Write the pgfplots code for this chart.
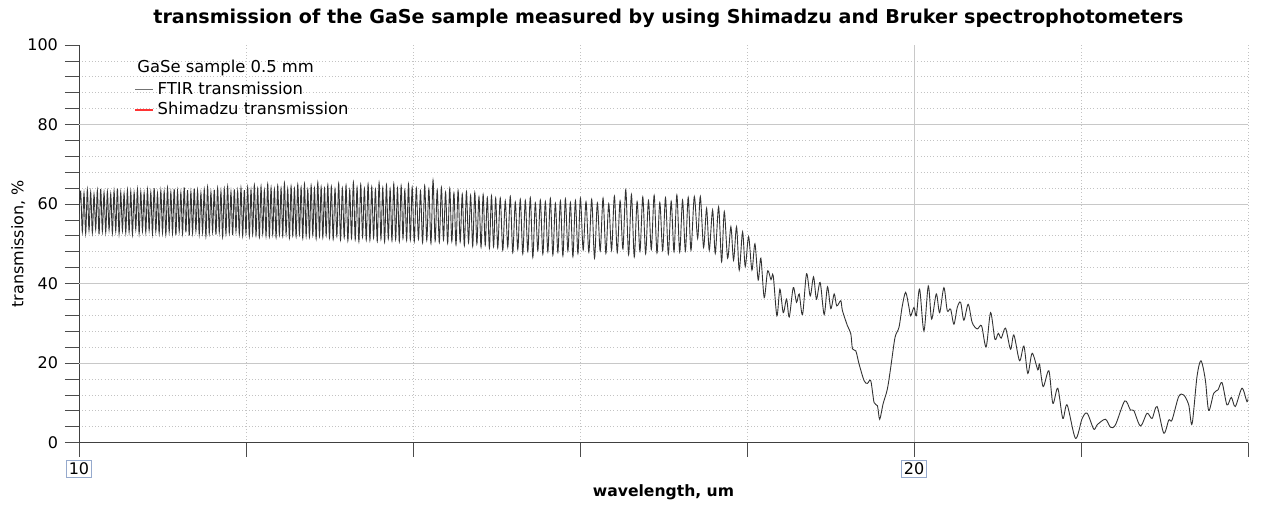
\documentclass[border=0pt]{standalone}
\usepackage{fontspec}
\setmainfont{DejaVu Sans}
\usepackage{pgfplots}
\pgfplotsset{compat=1.18}
\definecolor{gridmaj}{RGB}{200,200,200}
\definecolor{gridmin}{RGB}{195,195,195}
\definecolor{boxcol}{RGB}{150,170,205}
\begin{document}
\begin{tikzpicture}
\useasboundingbox (0,0) rectangle (640pt,252pt);
\begin{axis}[
  at={(39.5pt,30.65pt)}, anchor=south west,
  scale only axis, width=584.5pt, height=198.85pt,
  xmin=10, xmax=24, ymin=0, ymax=100,
  axis lines=left, axis line style={-, draw=black!75, line width=0.5pt},
  tick align=outside, major tick length=7pt, minor tick length=7pt,
  tick style={draw=black!70, line width=0.4pt},
  xtick={10,20}, minor xtick={12,14,16,18,22,24},
  ytick={0,20,40,60,80,100}, minor y tick num=4,
  xmajorgrids=true, xminorgrids=true, yminorgrids=true,
  extra y ticks={20,40,60,80}, extra y tick labels={},
  extra y tick style={ymajorgrids=true, major tick length=0pt},
  major grid style={draw=gridmaj, line width=0.5pt},
  minor grid style={draw=gridmin, dash pattern=on 0.4pt off 1.2pt, line width=0.4pt},
  /pgf/number format/assume math mode=true,
  ticklabel style={font=\fontsize{8}{9.6}\selectfont},
  xticklabel style={draw=boxcol, fill=white, inner sep=1.2pt, yshift=-1.5pt},
  title={\bfseries transmission of the GaSe sample measured by using Shimadzu and Bruker spectrophotometers},
  title style={font=\fontsize{9.55}{11}\selectfont, at={(axis description cs:0.5,1)}, anchor=base, yshift=4.5pt, xshift=2.5pt},
  xlabel={\bfseries wavelength, um},
  xlabel style={font=\fontsize{7.8}{9}\selectfont, at={(axis description cs:0.5,-0.124)}, anchor=center},
  ylabel={transmission, \%},
  ylabel style={font=\fontsize{8}{9.6}\selectfont, at={(axis description cs:-0.052,0.5)}, anchor=center, rotate=0},
  legend style={at={(axis description cs:0.047,0.919)}, anchor=north west, draw=none, fill=none,
    font=\fontsize{8.2}{10}\selectfont, inner sep=0pt, row sep=-1.5pt,
    /tikz/every even column/.append style={column sep=0pt}},
  legend cell align=left,
]
\addplot[black!80, line width=0.45pt, smooth, tension=0.5, forget plot] coordinates {
(10.00,57.5)(10.02,63.2)(10.04,53.0)(10.06,62.8)(10.08,52.6)(10.10,63.6)(10.12,53.4)(10.14,63.0)(10.16,52.8)(10.18,62.5)
(10.20,53.6)(10.22,63.4)(10.24,52.4)(10.26,63.8)(10.28,53.1)(10.30,62.9)(10.32,52.9)(10.34,63.1)(10.36,53.5)(10.38,62.6)
(10.40,52.7)(10.42,63.3)(10.44,53.2)(10.46,63.9)(10.48,52.5)(10.50,63.0)(10.52,53.3)(10.54,62.7)(10.56,52.8)(10.58,63.5)
(10.60,53.0)(10.62,63.2)(10.64,52.4)(10.66,62.9)(10.68,53.6)(10.70,63.7)(10.72,52.6)(10.74,63.1)(10.76,53.2)(10.78,62.8)
(10.80,52.9)(10.82,63.6)(10.84,53.4)(10.86,63.0)(10.88,52.5)(10.90,64.0)(10.92,53.1)(10.94,62.7)(10.96,52.7)(10.98,63.4)
(11.00,52.8)(11.02,63.2)(11.04,52.3)(11.06,64.1)(11.08,53.0)(11.10,63.0)(11.12,52.6)(11.14,63.8)(11.16,52.2)(11.18,63.3)
(11.20,53.1)(11.22,62.9)(11.24,52.5)(11.26,64.2)(11.28,52.9)(11.30,63.5)(11.32,52.1)(11.34,63.1)(11.36,52.7)(11.38,63.9)
(11.40,53.2)(11.42,63.4)(11.44,52.4)(11.46,62.8)(11.48,52.8)(11.50,63.7)(11.52,51.9)(11.54,64.3)(11.56,52.6)(11.58,63.0)
(11.60,53.0)(11.62,63.6)(11.64,52.3)(11.66,64.0)(11.68,52.9)(11.70,63.2)(11.72,51.8)(11.74,63.8)(11.76,52.5)(11.78,64.4)
(11.80,52.7)(11.82,63.1)(11.84,52.2)(11.86,63.7)(11.88,53.1)(11.90,63.3)(11.92,52.4)(11.94,64.1)(11.96,52.0)(11.98,63.5)
(12.00,52.6)(12.02,64.2)(12.04,51.9)(12.06,63.6)(12.08,52.4)(12.10,64.8)(12.12,52.1)(12.14,63.9)(12.16,51.7)(12.18,64.4)
(12.20,52.5)(12.22,63.5)(12.24,52.0)(12.26,65.0)(12.28,51.8)(12.30,64.1)(12.32,52.3)(12.34,63.7)(12.36,51.6)(12.38,64.6)
(12.40,52.2)(12.42,64.0)(12.44,51.9)(12.46,65.3)(12.48,52.4)(12.50,63.8)(12.52,51.5)(12.54,64.5)(12.56,52.1)(12.58,63.9)
(12.60,51.8)(12.62,64.9)(12.64,52.3)(12.66,64.2)(12.68,51.4)(12.70,65.1)(12.72,52.0)(12.74,63.7)(12.76,51.7)(12.78,64.7)
(12.80,52.2)(12.82,64.0)(12.84,51.3)(12.86,65.4)(12.88,51.9)(12.90,64.3)(12.92,51.6)(12.94,63.9)(12.96,52.1)(12.98,64.8)
(13.000,51.5)(13.022,64.4)(13.044,51.2)(13.066,63.8)(13.088,51.9)(13.110,65.2)(13.132,51.0)(13.154,64.0)(13.176,51.6)(13.198,64.7)
(13.220,50.8)(13.242,63.6)(13.264,51.4)(13.286,65.5)(13.308,51.1)(13.330,64.2)(13.352,50.6)(13.374,64.9)(13.396,51.7)(13.418,63.9)
(13.440,51.0)(13.462,65.0)(13.484,50.9)(13.506,64.3)(13.528,51.5)(13.550,63.7)(13.572,50.7)(13.594,65.4)(13.616,51.2)(13.638,64.1)
(13.660,50.5)(13.682,64.8)(13.704,51.3)(13.726,63.8)(13.748,50.8)(13.770,65.1)(13.792,51.1)(13.814,64.0)(13.836,50.6)(13.858,64.6)
(13.880,51.4)(13.902,63.5)(13.924,50.9)(13.946,65.0)(13.968,51.0)(13.990,64.2)
(14.015,50.6)(14.040,64.0)(14.065,51.2)(14.090,63.3)(14.115,50.3)(14.140,64.6)(14.165,50.9)(14.190,63.8)(14.215,50.1)(14.240,66.0)
(14.265,50.7)(14.290,63.5)(14.315,50.4)(14.340,64.2)(14.365,51.0)(14.390,63.0)(14.415,50.2)(14.440,63.9)(14.465,50.6)(14.490,62.8)
(14.515,49.8)(14.540,63.4)(14.565,50.5)(14.590,62.5)(14.615,49.6)(14.640,63.1)(14.665,50.3)(14.690,62.2)(14.715,49.4)(14.740,62.9)
(14.765,50.0)(14.790,61.8)(14.815,49.2)(14.840,62.4)(14.865,49.7)(14.890,61.6)(14.915,48.9)(14.940,62.1)(14.965,49.3)(14.990,61.5)
(15.015,49.0)(15.045,61.5)(15.075,48.4)(15.105,60.8)(15.135,49.2)(15.165,61.9)(15.195,47.8)(15.225,60.5)(15.255,48.6)(15.285,61.2)
(15.315,47.5)(15.345,60.9)(15.375,48.1)(15.405,61.6)(15.435,46.6)(15.465,60.3)(15.495,48.3)(15.525,61.0)(15.555,47.4)(15.585,60.6)
(15.615,48.0)(15.645,61.4)(15.675,47.2)(15.705,60.2)(15.735,47.9)(15.765,60.8)(15.795,47.0)(15.825,61.3)(15.855,48.2)(15.885,60.4)
(15.915,46.8)(15.945,60.9)(15.975,47.6)(16.005,61.5)
(16.038,48.5)(16.072,60.6)(16.106,47.9)(16.140,61.2)(16.174,46.4)(16.208,60.3)(16.242,48.2)(16.276,61.5)(16.310,47.6)(16.344,60.1)
(16.378,48.4)(16.412,62.0)(16.446,47.8)(16.480,60.8)(16.514,48.7)(16.548,63.6)(16.582,47.3)(16.616,62.4)(16.650,46.7)(16.684,60.6)
(16.718,48.1)(16.752,61.8)(16.786,47.5)(16.820,60.9)(16.854,48.6)(16.888,62.2)(16.922,47.7)(16.956,60.4)(16.990,48.3)(17.024,61.6)
(17.058,47.4)(17.092,60.7)(17.126,48.0)(17.160,62.3)(17.194,47.9)(17.228,61.0)(17.262,48.2)(17.296,61.7)
(17.329,48.4)(17.369,61.9)(17.409,51.4)(17.441,61.9)(17.480,49.1)(17.516,58.9)(17.548,48.4)(17.588,58.5)(17.620,47.6)(17.660,59.3)
(17.696,45.5)(17.728,58.1)(17.768,46.4)(17.807,54.3)(17.839,45.9)(17.875,54.3)(17.907,43.4)(17.947,53.0)(17.979,44.3)(18.019,51.8)
(18.059,43.4)(18.095,50.0)(18.134,40.9)(18.166,46.4)(18.206,36.5)(18.247,43.2)(18.287,41.0)(18.314,42.0)(18.358,31.9)(18.394,38.6)
(18.434,32.7)(18.474,36.1)(18.506,31.6)(18.554,39.0)(18.593,35.3)(18.625,37.4)(18.665,32.2)(18.713,42.5)(18.757,36.9)(18.797,41.7)
(18.832,36.1)(18.876,40.3)(18.924,32.2)(18.964,39.2)(19.004,33.7)(19.044,37.4)(19.075,34.4)(19.123,35.7)(19.143,33.2)(19.203,29.4)
(19.243,27.4)(19.263,23.6)(19.303,23.1)(19.342,19.8)(19.402,15.6)(19.442,14.9)(19.482,15.6)(19.522,10.1)(19.562,9.3)(19.589,5.9)
(19.629,9.7)(19.681,13.5)(19.721,18.9)(19.773,26.5)(19.820,29.0)(19.860,34.4)(19.900,37.8)(19.940,34.0)(19.960,31.9)(20.000,34.0)
(20.028,31.9)(20.067,38.6)(20.119,28.1)(20.171,39.4)(20.211,31.1)(20.267,37.4)(20.307,32.7)(20.358,39.0)(20.398,33.2)(20.438,33.6)
(20.478,29.8)(20.518,34.0)(20.558,35.3)(20.597,30.8)(20.649,34.8)(20.697,30.2)(20.757,28.6)(20.809,29.4)(20.864,24.1)(20.917,32.7)
(20.969,26.0)(21.009,27.5)(21.045,26.3)(21.096,28.8)(21.156,23.5)(21.196,27.1)(21.264,20.6)(21.316,24.3)(21.363,17.4)(21.415,22.5)
(21.483,18.3)(21.503,19.8)(21.547,14.1)(21.615,18.1)(21.663,9.9)(21.722,13.7)(21.782,6.1)(21.834,9.5)(21.934,1.1)(22.014,6.1)
(22.074,7.4)(22.153,3.4)(22.193,4.5)(22.293,5.9)(22.353,3.9)(22.413,4.5)(22.524,10.5)(22.592,8.2)(22.632,8.1)(22.712,4.2)
(22.791,7.4)(22.851,6.1)(22.911,9.1)(22.991,2.4)(23.051,5.7)(23.090,5.7)(23.170,11.6)(23.230,12.0)(23.290,9.5)(23.330,4.7)
(23.389,16.6)(23.437,20.6)(23.489,15.8)(23.529,8.1)(23.589,12.4)(23.641,13.3)(23.689,15.1)(23.748,9.5)(23.800,11.4)(23.848,9.1)
(23.928,13.7)(23.988,10.3)(24.008,12.0)
};
\addlegendimage{legend image code/.code={\draw[draw=black!55, line width=0.5pt] (0pt,0pt) -- (9pt,0pt);}}
\addlegendentry{FTIR transmission}
\addlegendimage{legend image code/.code={\draw[draw=red!80!white, line width=0.7pt] (0pt,0pt) -- (9pt,0pt);}}
\addlegendentry{Shimadzu transmission}
\node[anchor=west, inner sep=0pt, font=\fontsize{8.2}{10}\selectfont] at (axis description cs:0.0496,0.943) {GaSe sample 0.5 mm};
\end{axis}
\end{tikzpicture}
\end{document}
